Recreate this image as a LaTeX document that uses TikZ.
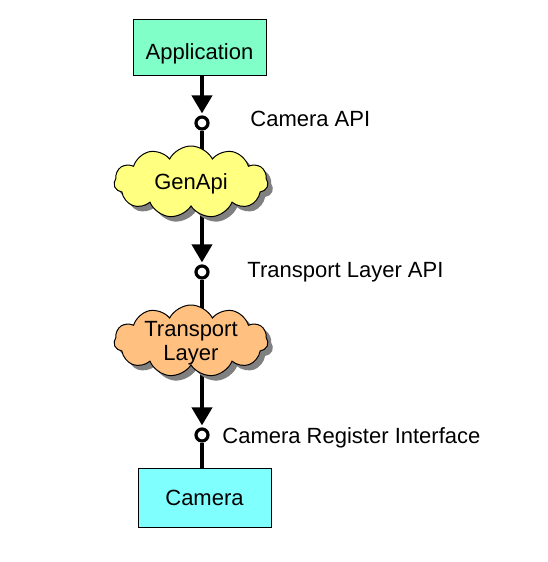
\documentclass[tikz,border=0pt]{standalone}
\usepackage{fontspec}
\setmainfont{Liberation Sans}
\usetikzlibrary{shapes.symbols,shadows,arrows.meta,backgrounds}

\definecolor{appgreen}{RGB}{128,255,200}
\definecolor{genyellow}{RGB}{255,255,128}
\definecolor{tlorange}{RGB}{255,192,128}
\definecolor{camcyan}{RGB}{128,255,255}

\tikzset{
  box/.style={draw, line width=0.5pt, minimum width=66.5pt, minimum height=28pt},
  blob/.style={cloud, cloud puffs=11, cloud puff arc=125, cloud ignores aspect, draw, line width=0.5pt,
    minimum width=77pt, minimum height=36pt, inner sep=0pt, align=center, text depth=0pt,
    drop shadow={shadow xshift=2.5pt, shadow yshift=-2.5pt, fill=black!50, opacity=1}},
  port/.style={circle, draw, line width=1.6pt, fill=white, inner sep=0pt, minimum size=6pt},
  tag/.style={anchor=base west, inner sep=0pt},
  wire/.style={line width=2pt},
  feed/.style={wire, -{Triangle[length=9pt,width=10pt]}, shorten >=1pt},
  every node/.style={font=\fontsize{11}{12}\selectfont}
}

\begin{document}
\begin{tikzpicture}[x=0.5pt,y=-0.5pt]
\useasboundingbox (0,0) rectangle (547,562);

\node[box, fill=appgreen, text height=12pt, text depth=0pt] (app) at (199.5,47) {Application};
\node[port] (cam api) at (202,123) {};
\node[blob, fill=genyellow] (genapi) at (191,182) {GenApi};
\node[port] (tl api) at (202,272) {};
\node[blob, fill=tlorange, inner ysep=-3pt] (tl) at (191,341) {Transport\\Layer};
\node[port] (cam reg) at (202,435) {};
\node[box, fill=camcyan, minimum height=29.5pt, text depth=0pt] (camera) at (204.5,497.5) {Camera};

\node[tag] (cam api lbl) at (250,126) {Camera API};
\node[tag] (tl api lbl) at (247,277) {Transport Layer API};
\node[tag] (cam reg lbl) at (222,443) {Camera Register Interface};

\begin{scope}[on background layer]
\draw[feed] (cam api |- app.south) -- (cam api);
\draw[wire] (cam api) -- (cam api |- genapi.center);
\draw[feed] (tl api |- genapi.center) -- (tl api);
\draw[wire] (tl api) -- (tl api |- tl.center);
\draw[feed] (cam reg |- tl.center) -- (cam reg);
\draw[wire] (cam reg) -- (cam reg |- camera.north);
\end{scope}
\end{tikzpicture}
\end{document}
